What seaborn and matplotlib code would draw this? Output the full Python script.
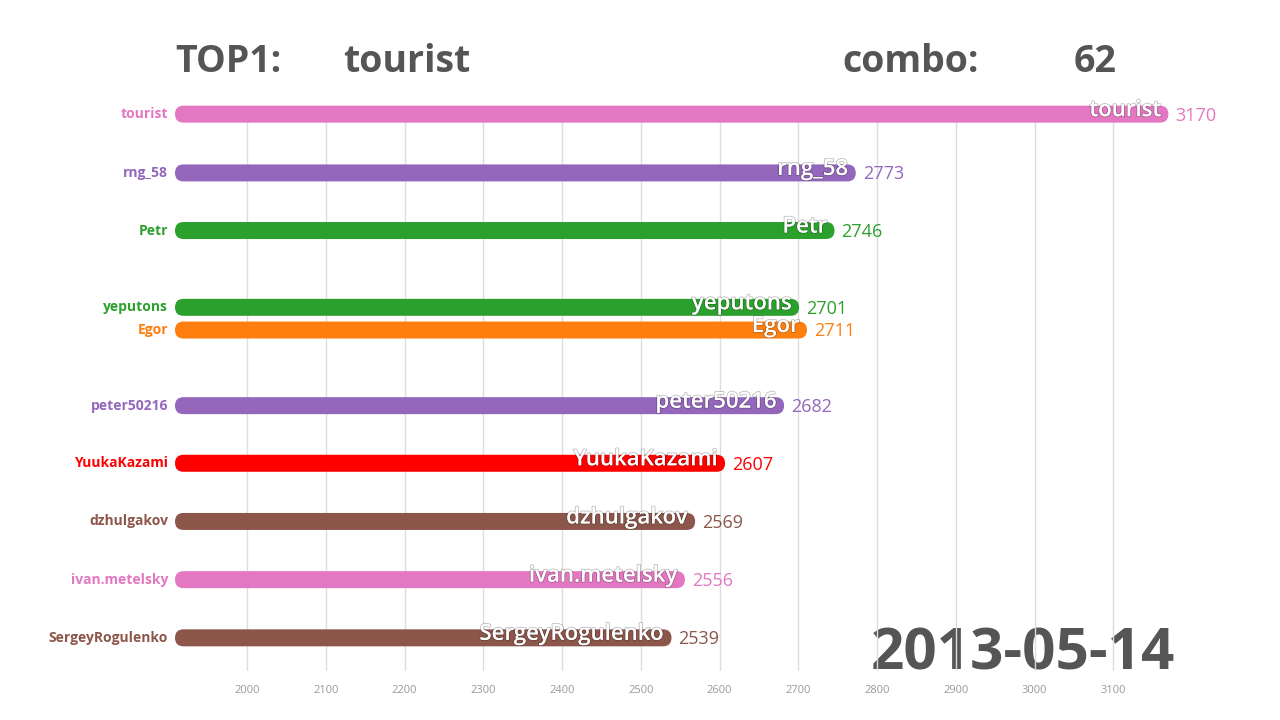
import seaborn as sns
import matplotlib.pyplot as plt
import matplotlib.patheffects as pe
from matplotlib.patches import FancyBboxPatch

# Data (2013-05-14)
names = ["tourist", "rng_58", "Petr", "yeputons", "Egor",
         "peter50216", "YuukaKazami", "dzhulgakov", "ivan.metelsky", "SergeyRogulenko"]
ratings = [3170, 2773, 2746, 2701, 2711, 2682, 2607, 2569, 2556, 2539]
# rank positions (yeputons / Egor are mid-swap in the animation)
ranks = [0, 1.01, 2.0, 3.32, 3.71, 5.01, 6.0, 7.0, 8.0, 9.0]
colors = ["#e377c2", "#9467bd", "#2ca02c", "#2ca02c", "#ff7f0e",
          "#9467bd", "#ff0000", "#8c564b", "#e377c2", "#8c564b"]
x_ticks = list(range(2000, 3200, 100))
top_name = "tourist"
combo = 62
date = "2013-05-14"

sns.set_style("white")
plt.rcParams['font.family'] = ['Open Sans', 'DejaVu Sans']

W, H = 1280, 720
fig = plt.figure(figsize=(12.8, 7.2), dpi=100)
ax = fig.add_axes([175 / W, (H - 671) / H, 1080 / W, 565 / H])

palette = dict(zip(names, colors))
sns.barplot(x=ratings, y=ranks, hue=names, palette=palette, orient="h",
            native_scale=True, dodge=False, legend=False, saturation=1, ax=ax)

xmin, xmax = 1908.5, 3280
ax.set_xlim(xmin, xmax)
ax.set_ylim(9.57, -0.14)

# pixel scales, used to turn bars into rounded pills
xppu = 1080 / (xmax - xmin)
yppu = 565 / (9.57 + 0.14)
bar_px = 17
bar_h = bar_px / yppu
r = (bar_px / 2) / xppu
for p in list(ax.patches):
    x0 = max(p.get_x(), xmin)
    x1 = p.get_x() + p.get_width()
    yc = p.get_y() + p.get_height() / 2
    fc = p.get_facecolor()
    p.remove()
    ax.add_patch(FancyBboxPatch((x0, yc - bar_h / 2), x1 - x0, bar_h,
                                boxstyle=f"round,pad=0,rounding_size={r}",
                                mutation_aspect=xppu / yppu, fc=fc, ec="none",
                                zorder=2, clip_on=False))

# labels
for name, val, rk, c in zip(names, ratings, ranks, colors):
    ax.annotate(name, xy=(xmin, rk), xytext=(-5, 0), textcoords="offset points",
                ha="right", va="center", fontsize=10, fontweight="bold", color=c,
                annotation_clip=False)
    ax.annotate(name, xy=(val, rk), xytext=(-5, 2.5), textcoords="offset points",
                ha="right", va="center", fontsize=16, fontweight="semibold", color="white",
                zorder=4, path_effects=[pe.withStroke(linewidth=1.2, foreground="#00000040")])
    ax.annotate(str(val), xy=(val, rk), xytext=(5, -1), textcoords="offset points",
                ha="left", va="center", fontsize=13, color=c, zorder=4,
                annotation_clip=False)

# axis styling
ax.set_yticks([])
ax.set_xticks(x_ticks)
ax.set_xticklabels([str(t) for t in x_ticks])
ax.tick_params(axis="x", length=0, pad=10, labelsize=8, labelcolor="#999999")
ax.grid(axis="x", color="#dddddd", linewidth=1)
ax.set_axisbelow("line")
for s in ax.spines.values():
    s.set_visible(False)
ax.set_xlabel("")
ax.set_ylabel("")

# header and date
title_kw = dict(fontsize=27, fontweight="bold", color="#555555", va="center")
fig.text(175 / W, 1 - 62 / H, "TOP1:", ha="left", **title_kw)
fig.text(343 / W, 1 - 62 / H, top_name, ha="left", **title_kw)
fig.text(842 / W, 1 - 62 / H, "combo:", ha="left", **title_kw)
fig.text(1117 / W, 1 - 62 / H, str(combo), ha="right", **title_kw)
ax.text((1175 - 175) / 1080, 1 - (655 - 106) / 565, date,
        transform=ax.transAxes, ha="right", va="center", fontsize=42,
        fontweight="bold", color="#555555", zorder=1)

fig.savefig("out.png", dpi=100)
plt.close(fig)
